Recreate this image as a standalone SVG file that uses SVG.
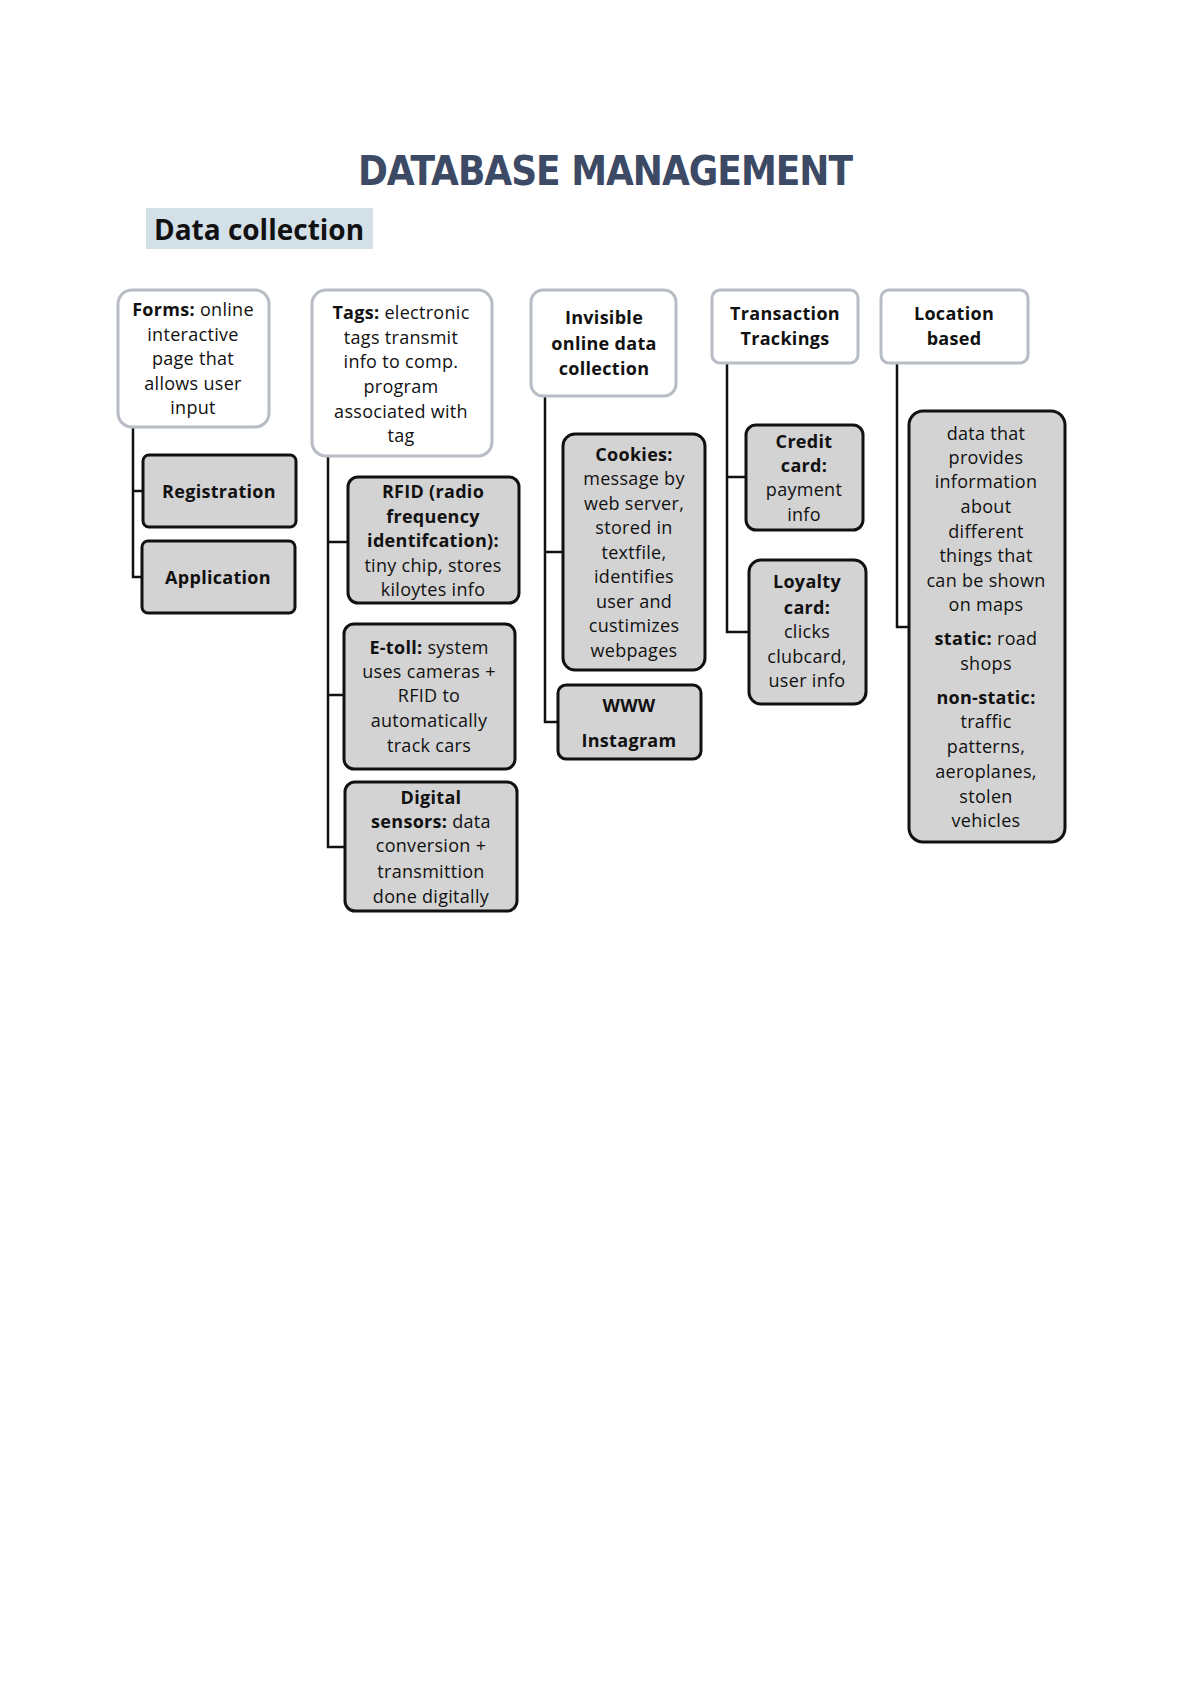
<svg xmlns="http://www.w3.org/2000/svg" width="1200" height="1696" viewBox="0 0 1200 1696">
<style>
text{font-family:"Open Sans","Liberation Sans",sans-serif;font-size:18px;fill:#111;text-anchor:middle;dominant-baseline:central;letter-spacing:0.3px}
.b{font-weight:bold}
.top{fill:#fff;stroke:#b8bcc4;stroke-width:3}
.sub{fill:#d3d3d3;stroke:#111;stroke-width:3}
.c{fill:none;stroke:#111;stroke-width:2.5}
</style>
<rect width="1200" height="1696" fill="#fff"/>
<text x="605" y="171" style="font-family:'DejaVu Sans Condensed','DejaVu Sans',sans-serif;font-size:40px;font-weight:bold;fill:#3d4a66;letter-spacing:-1px">DATABASE MANAGEMENT</text>
<rect x="146" y="208" width="227" height="41" fill="#d3e0e8"/>
<text x="259" y="229" class="b" style="font-size:28px;letter-spacing:0">Data collection</text>
<g id="connectors">
<path class="c" d="M133 427V577H142M133 491H143"/>
<path class="c" d="M328 456V847H345M328 542H348M328 695H344"/>
<path class="c" d="M545 396V722H558M545 552H563"/>
<path class="c" d="M727 363V632H749M727 477H746"/>
<path class="c" d="M897 363V627H909"/>
</g>
<g id="forms"><rect class="top" x="118" y="290" width="151" height="137" rx="14"/>
<text x="193" y="309"><tspan class="b">Forms:</tspan> online</text><text x="193" y="334">interactive</text><text x="193" y="358">page that</text><text x="193" y="383">allows user</text><text x="193" y="407">input</text></g>
<g id="registration"><rect class="sub" x="143" y="455" width="153" height="72" rx="6"/><text x="219" y="491" class="b">Registration</text></g>
<g id="application"><rect class="sub" x="142" y="541" width="153" height="72" rx="6"/><text x="218" y="577" class="b">Application</text></g>
<g id="tags"><rect class="top" x="312" y="290" width="180" height="166" rx="14"/>
<text x="401" y="312"><tspan class="b">Tags:</tspan> electronic</text><text x="401" y="337">tags transmit</text><text x="401" y="361">info to comp.</text><text x="401" y="386">program</text><text x="401" y="411">associated with</text><text x="401" y="435">tag</text></g>
<g id="rfid"><rect class="sub" x="348" y="477" width="171" height="126" rx="10"/>
<text x="433" y="491" class="b">RFID (radio</text><text x="433" y="516" class="b">frequency</text><text x="433" y="540" class="b">identifcation):</text><text x="433" y="565">tiny chip, stores</text><text x="433" y="589">kiloytes info</text></g>
<g id="etoll"><rect class="sub" x="344" y="624" width="171" height="145" rx="10"/>
<text x="429" y="647"><tspan class="b">E-toll:</tspan> system</text><text x="429" y="671">uses cameras +</text><text x="429" y="695">RFID to</text><text x="429" y="720">automatically</text><text x="429" y="745">track cars</text></g>
<g id="digital"><rect class="sub" x="345" y="782" width="172" height="129" rx="10"/>
<text x="431" y="797" class="b">Digital</text><text x="431" y="821"><tspan class="b">sensors:</tspan> data</text><text x="431" y="845">conversion +</text><text x="431" y="871">transmittion</text><text x="431" y="896">done digitally</text></g>
<g id="invisible"><rect class="top" x="531" y="290" width="145" height="106" rx="12"/>
<text x="604" y="317" class="b">Invisible</text><text x="604" y="343" class="b">online data</text><text x="604" y="368" class="b">collection</text></g>
<g id="cookies"><rect class="sub" x="563" y="434" width="142" height="236" rx="12"/>
<text x="634" y="454" class="b">Cookies:</text><text x="634" y="478">message by</text><text x="634" y="503">web server,</text><text x="634" y="527">stored in</text><text x="634" y="552">textfile,</text><text x="634" y="576">identifies</text><text x="634" y="601">user and</text><text x="634" y="625">custimizes</text><text x="634" y="650">webpages</text></g>
<g id="www"><rect class="sub" x="558" y="685" width="143" height="74" rx="8"/>
<text x="629" y="705" class="b">WWW</text><text x="629" y="740" class="b">Instagram</text></g>
<g id="transaction"><rect class="top" x="712" y="290" width="146" height="73" rx="8"/>
<text x="785" y="313" class="b">Transaction</text><text x="785" y="338" class="b">Trackings</text></g>
<g id="credit"><rect class="sub" x="746" y="425" width="117" height="105" rx="10"/>
<text x="804" y="441" class="b">Credit</text><text x="804" y="465" class="b">card:</text><text x="804" y="489">payment</text><text x="804" y="514">info</text></g>
<g id="loyalty"><rect class="sub" x="749" y="560" width="117" height="144" rx="12"/>
<text x="807" y="581" class="b">Loyalty</text><text x="807" y="607" class="b">card:</text><text x="807" y="631">clicks</text><text x="807" y="656">clubcard,</text><text x="807" y="680">user info</text></g>
<g id="location"><rect class="top" x="881" y="290" width="147" height="73" rx="8"/>
<text x="954" y="313" class="b">Location</text><text x="954" y="338" class="b">based</text></g>
<g id="locdata"><rect class="sub" x="909" y="411" width="156" height="431" rx="14"/>
<text x="986" y="433">data that</text><text x="986" y="457">provides</text><text x="986" y="481">information</text><text x="986" y="506">about</text><text x="986" y="531">different</text><text x="986" y="555">things that</text><text x="986" y="580">can be shown</text><text x="986" y="604">on maps</text>
<text x="986" y="638"><tspan class="b">static:</tspan> road</text><text x="986" y="663">shops</text>
<text x="986" y="697" class="b">non-static:</text><text x="986" y="721">traffic</text><text x="986" y="746">patterns,</text><text x="986" y="771">aeroplanes,</text><text x="986" y="796">stolen</text><text x="986" y="820">vehicles</text></g>
</svg>
